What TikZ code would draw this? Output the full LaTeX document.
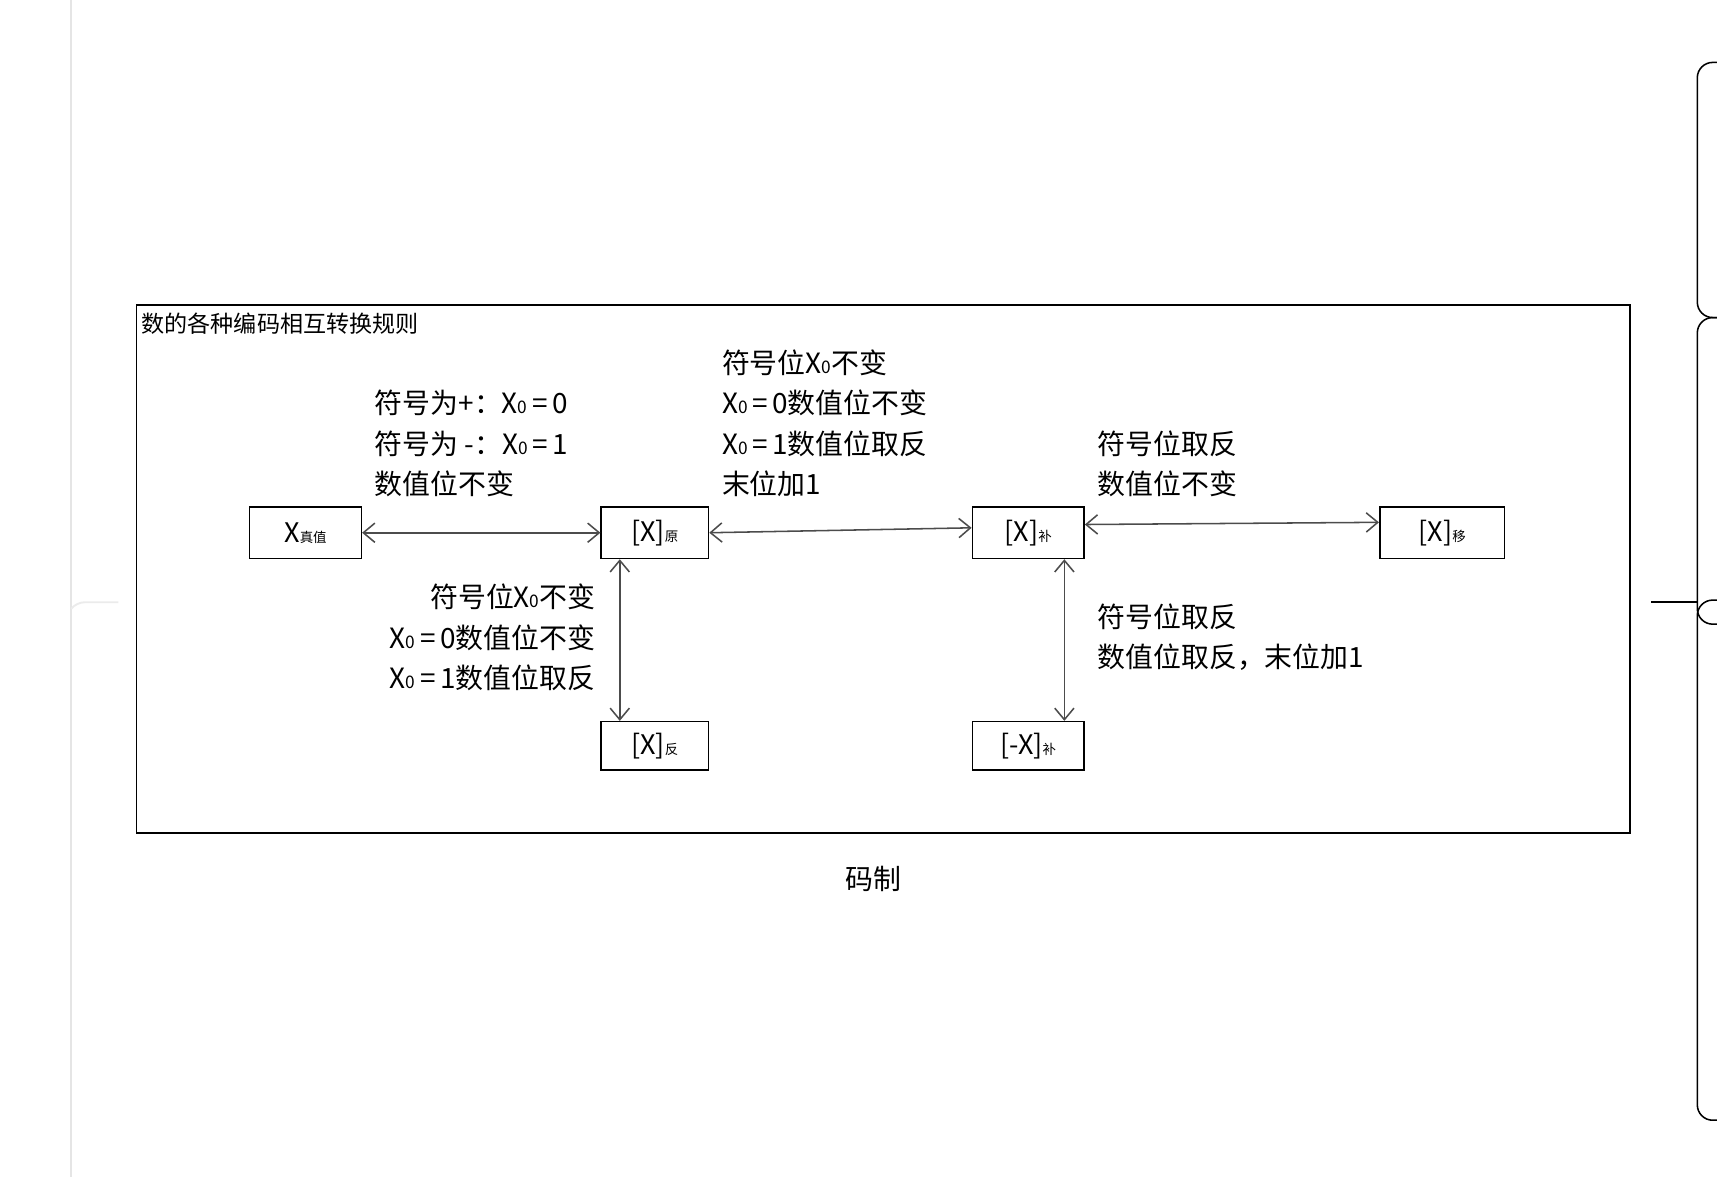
\documentclass[tikz,border=0pt]{standalone}
\usepackage{fontspec}
\setmainfont{Noto Sans CJK SC}
\usetikzlibrary{arrows.meta}
\begin{document}
\begin{tikzpicture}[x=0.02cm,y=-0.02cm,
  box/.style={draw,line width=0.8pt,inner sep=0pt},
  conn/.style={draw=black!70,line width=0.8pt,{Straight Barb[length=6pt,width=10pt]}-{Straight Barb[length=6pt,width=10pt]}},
  lbl/.style={align=left,font=\fontsize{14.5}{21}\selectfont,inner sep=0pt}]
\newcommand{\xo}{X{\fontsize{9}{9}\selectfont 0}}
\newcommand{\eqs}{\,=\,}
\newcommand{\sm}[1]{{\fontsize{7}{7}\selectfont #1}}
\useasboundingbox (0,0) rectangle (1568,1075);
% side decorations
\draw[black!10,line width=1pt] (65,0) -- (65,1075);
\draw[black!8,line width=1pt,rounded corners=4] (108,550) -- (70,550) -- (65,556);
\draw[line width=0.8pt,rounded corners=8] (1568,57) -- (1550,57) -- (1550,290) -- (1568,290);
\draw[line width=0.8pt,rounded corners=8] (1568,290) -- (1550,290) -- (1550,570) -- (1568,570);
\draw[line width=0.8pt,rounded corners=8] (1568,548) -- (1550,548) -- (1550,1023) -- (1568,1023);
\draw[line width=1pt] (1508,550) -- (1550,550);
% frame
\node[box,minimum width=1364*0.02cm,minimum height=482*0.02cm,anchor=north west] (frame) at (124,278) {};
\node[anchor=west,inner sep=0pt,font=\fontsize{12}{12}\selectfont] (title) at (129,296) {数的各种编码相互转换规则};
% boxes
\tikzset{nb/.style={box,font=\fontsize{14}{14}\selectfont,minimum height=47*0.02cm}}
\node[nb,minimum width=102*0.02cm] (xt) at (279,486.5) {X\sm{真值}};
\node[nb,minimum width=98*0.02cm] (xy) at (598,486.5) {[X]\sm{原}};
\node[nb,minimum width=102*0.02cm] (xb) at (939,486.5) {[X]\sm{补}};
\node[nb,minimum width=114*0.02cm] (xm) at (1317,486.5) {[X]\sm{移}};
\node[nb,minimum width=98*0.02cm,minimum height=44*0.02cm] (xf) at (598,681) {[X]\sm{反}};
\node[nb,minimum width=102*0.02cm,minimum height=44*0.02cm] (nxb) at (939,681) {[-X]\sm{补}};
% connectors
\draw[conn] (xt.east) -- (xy.west);
\draw[conn] (xy.east) -- (xb.west |- 0,482);
\draw[conn] (xb.east |- 0,479) -- (xm.west |- 0,477);
\draw[conn] (xy.south -| 566,0) -- (xf.north -| 566,0);
\draw[conn] (xb.south -| 972,0) -- (nxb.north -| 972,0);
% labels
\node[lbl,anchor=north west] (l1) at (342,356) {符号为+：\xo\eqs 0\\符号为 -：\xo\eqs 1\\数值位不变};
\node[lbl,anchor=north west] (l2) at (659,319) {符号位\xo 不变\\\xo\eqs 0数值位不变\\\xo\eqs 1数值位取反\\末位加1};
\node[lbl,anchor=north west] (l3) at (1002,393) {符号位取反\\数值位不变};
\node[lbl,anchor=north east,align=right] (l4) at (544,533) {符号位\xo 不变\\\xo\eqs 0数值位不变\\\xo\eqs 1数值位取反};
\node[lbl,anchor=north west] (l5) at (1002,551) {符号位取反\\数值位取反，末位加1};
\node[lbl] (cap) at (798,803) {码制};
\end{tikzpicture}
\end{document}
